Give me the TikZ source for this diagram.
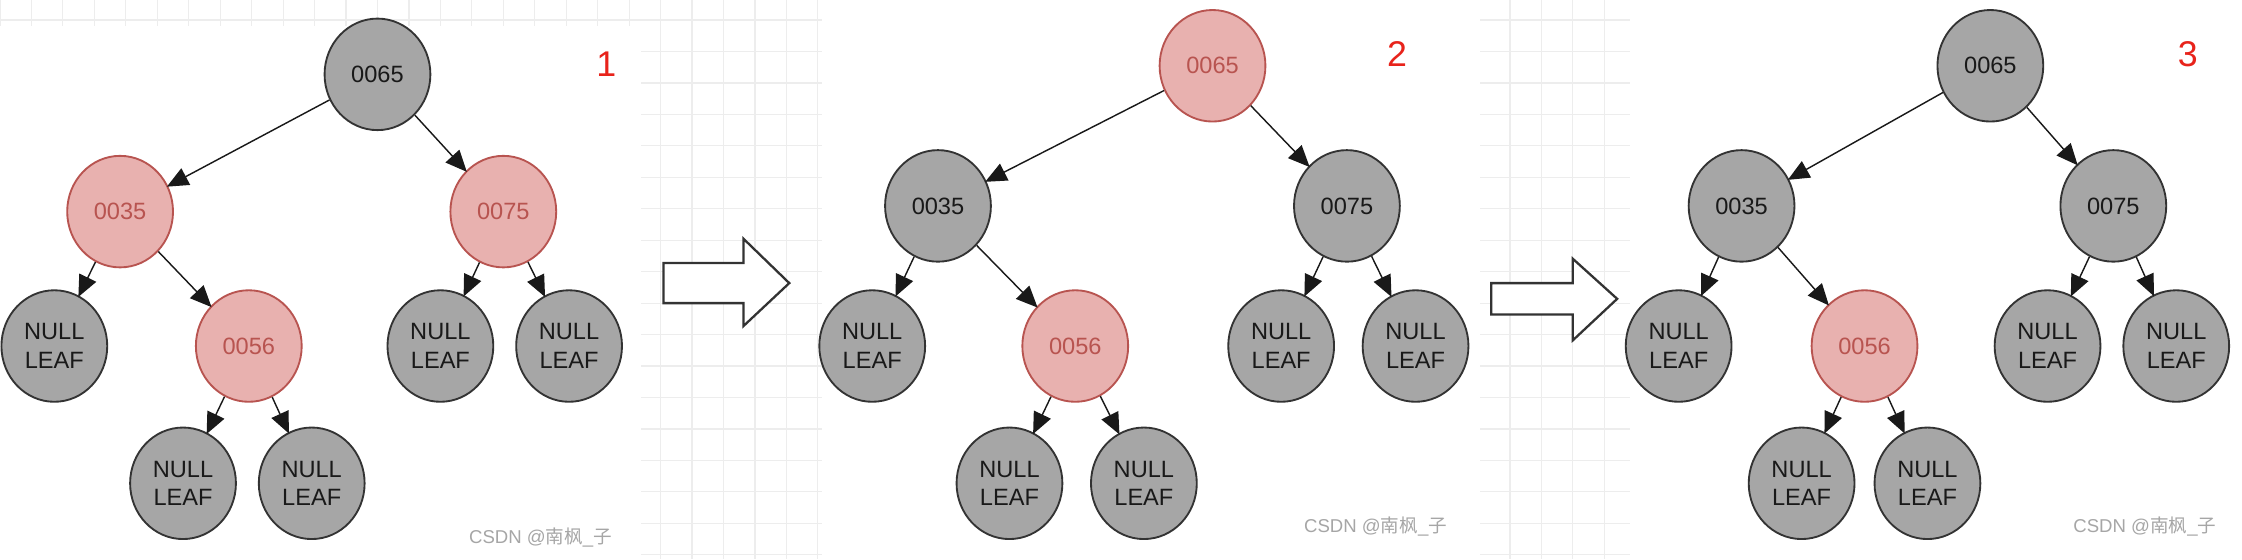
\documentclass[tikz,border=0pt]{standalone}
\usepackage{fontspec}
\setmainfont{Liberation Sans}
\newfontfamily\cjk{Noto Sans CJK SC}
\usetikzlibrary{shapes.geometric,arrows.meta}
\definecolor{gfill}{HTML}{A6A6A6}
\definecolor{rfill}{HTML}{E8B1AF}
\definecolor{rline}{HTML}{B85450}
\definecolor{gridc}{HTML}{EDEDED}
\definecolor{numc}{HTML}{E8231B}
\tikzset{
 bn/.style={ellipse,draw=black!80,line width=1.3pt,fill=gfill,minimum width=74pt,minimum height=78pt,inner sep=0pt,font=\fontsize{16.5}{20}\selectfont,align=center,text=black!90},
 rn/.style={bn,draw=rline,fill=rfill,text=rline},
 ed/.style={-{Triangle[length=15pt,width=13pt]},line width=1pt,black!90,shorten >=-1pt},
 num/.style={text=numc,font=\fontsize{25}{28}\selectfont},
 wm/.style={text=black!35,font=\fontsize{13}{15}\selectfont},
 blk/.style={draw=black!80,line width=1.6pt,fill=white}
}
\begin{document}
\begin{tikzpicture}[x=1pt,y=-1pt]
\useasboundingbox (0,0) rectangle (1568,391);
\fill[white] (0,0) rectangle (1568,391);
\foreach \i in {0,...,72}{\draw[gridc,line width=0.8pt] (\i*22,0) -- (\i*22,391);}
\foreach \j in {0,...,18}{\draw[gridc,line width=0.8pt] (0,\j*22+14) -- (1568,\j*22+14);}
\fill[white] (0,18) rectangle (448,391);
\fill[white] (575,0) rectangle (1035,391);
\fill[white] (1140,0) rectangle (1568,391);
% panel 1
\node[bn] (a1) at (264,52) {0065};
\node[rn] (b1) at (84,148) {0035};
\node[rn] (c1) at (352,148) {0075};
\node[bn] (d1) at (38,242) {NULL\\LEAF};
\node[rn] (e1) at (174,242) {0056};
\node[bn] (f1) at (308,242) {NULL\\LEAF};
\node[bn] (g1) at (398,242) {NULL\\LEAF};
\node[bn] (h1) at (128,338) {NULL\\LEAF};
\node[bn] (i1) at (218,338) {NULL\\LEAF};
\foreach \p/\q in {a1/b1,a1/c1,b1/d1,b1/e1,c1/f1,c1/g1,e1/h1,e1/i1}{\draw[ed] (\p) -- (\q);}
\node[num] (n1) at (424,45) {1};
\node[wm] (w1) at (378,376) {CSDN @{\cjk 南枫}\_{\cjk 子}};
% arrow 1
\draw[blk] (464,184) -- (520,184) -- (520,167) -- (552,198) -- (520,228) -- (520,212) -- (464,212) -- cycle;
% panel 2
\node[rn] (a2) at (848,46) {0065};
\node[bn] (b2) at (656,144) {0035};
\node[bn] (c2) at (942,144) {0075};
\node[bn] (d2) at (610,242) {NULL\\LEAF};
\node[rn] (e2) at (752,242) {0056};
\node[bn] (f2) at (896,242) {NULL\\LEAF};
\node[bn] (g2) at (990,242) {NULL\\LEAF};
\node[bn] (h2) at (706,338) {NULL\\LEAF};
\node[bn] (i2) at (800,338) {NULL\\LEAF};
\foreach \p/\q in {a2/b2,a2/c2,b2/d2,b2/e2,c2/f2,c2/g2,e2/h2,e2/i2}{\draw[ed] (\p) -- (\q);}
\node[num] (n2) at (977,38) {2};
\node[wm] (w2) at (962,368) {CSDN @{\cjk 南枫}\_{\cjk 子}};
% arrow 2
\draw[blk] (1043,198) -- (1100,198) -- (1100,181) -- (1131,209) -- (1100,238) -- (1100,220) -- (1043,220) -- cycle;
% panel 3
\node[bn] (a3) at (1392,46) {0065};
\node[bn] (b3) at (1218,144) {0035};
\node[bn] (c3) at (1478,144) {0075};
\node[bn] (d3) at (1174,242) {NULL\\LEAF};
\node[rn] (e3) at (1304,242) {0056};
\node[bn] (f3) at (1432,242) {NULL\\LEAF};
\node[bn] (g3) at (1522,242) {NULL\\LEAF};
\node[bn] (h3) at (1260,338) {NULL\\LEAF};
\node[bn] (i3) at (1348,338) {NULL\\LEAF};
\foreach \p/\q in {a3/b3,a3/c3,b3/d3,b3/e3,c3/f3,c3/g3,e3/h3,e3/i3}{\draw[ed] (\p) -- (\q);}
\node[num] (n3) at (1530,38) {3};
\node[wm] (w3) at (1500,368) {CSDN @{\cjk 南枫}\_{\cjk 子}};
\end{tikzpicture}
\end{document}
